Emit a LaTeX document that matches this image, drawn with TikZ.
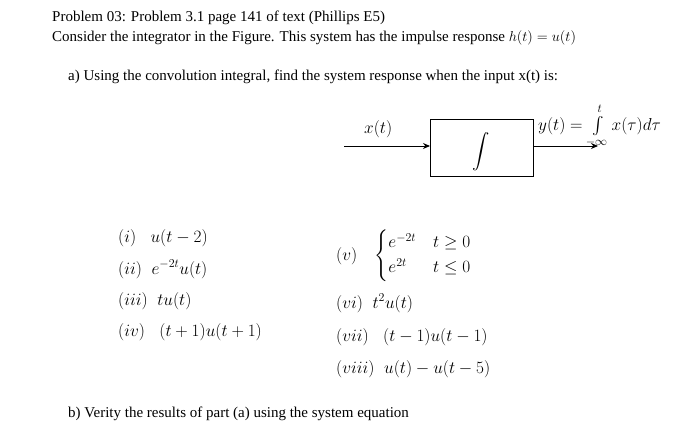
\documentclass[tikz,border=0pt]{standalone}
\usepackage{amsmath}
\usepackage{fontspec}
\setmainfont{Liberation Serif}
\usetikzlibrary{arrows.meta}
\begin{document}
\begin{tikzpicture}[x=1pt,y=-1pt,
  txt/.style={anchor=base west,inner sep=0pt,font=\fontsize{15}{17}\selectfont},
  mth/.style={anchor=base west,inner sep=0pt,font=\fontsize{17}{19}\selectfont},
  sig/.style={line width=1pt,-{Stealth[length=7pt,width=6pt]}}]
\useasboundingbox (0,0) rectangle (700,441);
\node[txt] (t1) at (52,22) {Problem 03: Problem 3.1 page 141 of text (Phillips E5)};
\node[txt] (t2) at (52,42) {Consider the integrator in the Figure. This system has the impulse response {\fontsize{14}{16}\selectfont$h(t)=u(t)$}};
\node[txt] (t3) at (68,81) {a) Using the convolution integral, find the system response when the input x(t) is:};
\node[draw,line width=1pt,minimum width=103pt,minimum height=57pt,anchor=north west,inner sep=0pt] (blk) at (430,119) {};
\node[font=\fontsize{19}{21}\selectfont] (intg) at (481,152) {$\displaystyle\int$};
\coordinate (in) at (344,146);
\coordinate (out) at (598,146);
\draw[sig] (in) -- (blk.west |- in);
\draw[sig] (blk.east |- out) -- (out);
\node[mth] (xl) at (364,133) {$x(t)$};
\node[mth] (yl) at (538,130) {$y(t)=\int\limits_{-\infty}^{t}x(\tau)d\tau$};
\node[mth] (i) at (118,242) {$(i)\;\;\;u(t-2)$};
\node[mth] (ii) at (118,274) {$(ii)\;\;e^{-2t}u(t)$};
\node[mth] (iii) at (118,305) {$(iii)\;\;tu(t)$};
\node[mth] (iv) at (118,336) {$(iv)\;\;\;(t+1)u(t+1)$};
\node[mth] (v) at (336,260) {$(v)\;\;\;\begin{cases} e^{-2t} & t\ge 0\\[2pt] e^{2t} & t\le 0\end{cases}$};
\node[mth] (vi) at (336,308) {$(vi)\;\;t^2u(t)$};
\node[mth] (vii) at (336,341) {$(vii)\;\;\;(t-1)u(t-1)$};
\node[mth] (viii) at (336,373) {$(viii)\;\;u(t)-u(t-5)$};
\node[txt] (tb) at (68,417) {b) Verity the results of part (a) using the system equation};
\end{tikzpicture}
\end{document}
